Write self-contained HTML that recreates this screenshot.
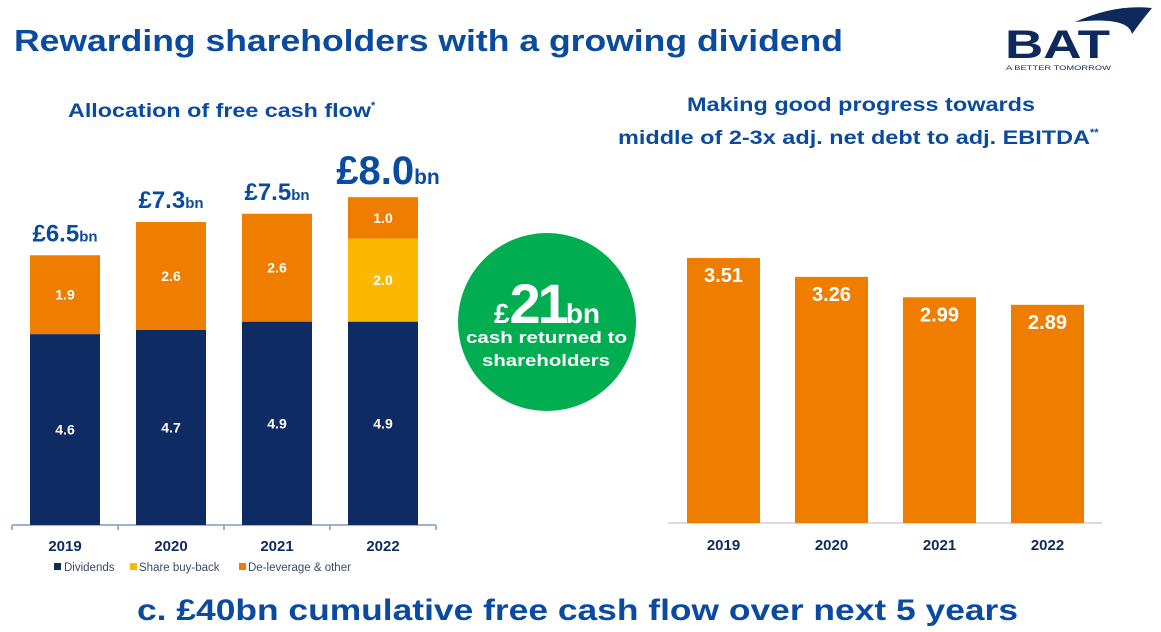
<!DOCTYPE html>
<html><head><meta charset="utf-8"><style>
body{margin:0;width:1161px;height:632px;background:#fff;overflow:hidden;font-family:"Liberation Sans",sans-serif}
svg{display:block}
</style></head><body>
<svg id="s" width="1161" height="632" font-family="Liberation Sans, sans-serif">
<text x="14" y="51" font-size="31" font-weight="bold" fill="#0a4a9f" textLength="829" lengthAdjust="spacingAndGlyphs">Rewarding shareholders with a growing dividend</text>
<g>
<text x="1005" y="58" font-size="40" font-weight="bold" fill="#0e2a5c" textLength="105" lengthAdjust="spacingAndGlyphs">BAT</text>
<path d="M1075 22 Q1115 4 1152 8 Q1142 20 1132 34 Q1128 16 1075 22Z" fill="#0e2a5c"/>
<text x="1006" y="70" font-size="6.5" fill="#0e2a5c" textLength="105" lengthAdjust="spacingAndGlyphs">A BETTER TOMORROW</text>
</g>
<text x="68" y="117" font-size="19" font-weight="bold" fill="#0a4a9f"><tspan textLength="303" lengthAdjust="spacingAndGlyphs">Allocation of free cash flow</tspan><tspan font-size="11" dy="-8">*</tspan></text>
<text x="687" y="111" font-size="19" font-weight="bold" fill="#0a4a9f" textLength="348" lengthAdjust="spacingAndGlyphs">Making good progress towards</text>
<text x="618" y="144" font-size="19" font-weight="bold" fill="#0a4a9f"><tspan textLength="472" lengthAdjust="spacingAndGlyphs">middle of 2-3x adj. net debt to adj. EBITDA</tspan><tspan font-size="11" dy="-8">**</tspan></text>
<g id="left"></g>
<g id="right"></g>
<g>
<circle cx="547" cy="322" r="89" fill="#00ad50"/>
<text x="547" y="323" text-anchor="middle" fill="#fff" font-weight="bold"><tspan font-size="28">£</tspan><tspan font-size="56" letter-spacing="-3">21</tspan><tspan font-size="28">bn</tspan></text>
<text x="466" y="343" fill="#fff" font-weight="bold" font-size="17" textLength="161" lengthAdjust="spacingAndGlyphs">cash returned to</text>
<text x="482" y="366" fill="#fff" font-weight="bold" font-size="17" textLength="128" lengthAdjust="spacingAndGlyphs">shareholders</text>
</g>
<g>
<rect x="54" y="563" width="7" height="7" fill="#0f2b63"/><text x="64" y="571" font-size="11.5" fill="#3a4a6a">Dividends</text>
<rect x="130" y="563" width="7" height="7" fill="#fbb800"/><text x="139" y="571" font-size="11.5" fill="#3a4a6a">Share buy-back</text>
<rect x="239" y="563" width="7" height="7" fill="#ee7d00"/><text x="248" y="571" font-size="11.5" fill="#3a4a6a">De-leverage &amp; other</text>
</g>
<text x="137" y="620" font-size="30" font-weight="bold" fill="#0a4a9f" textLength="881" lengthAdjust="spacingAndGlyphs">c. £40bn cumulative free cash flow over next 5 years</text>
</svg>
<script>
const years=['2019','2020','2021','2022'];
const dividends=[4.6,4.7,4.9,4.9];
const buyback=[0,0,0,2.0];
const deleverage=[1.9,2.6,2.6,1.0];
const totals=['6.5','7.3','7.5','8.0'];
const leverage=[3.51,3.26,2.99,2.89];
const NS='http://www.w3.org/2000/svg';
function mk(p,t,a,txt){const e=document.createElementNS(NS,t);for(const k in a)e.setAttribute(k,a[k]);if(txt!=null)e.textContent=txt;p.appendChild(e);return e;}
const L=document.getElementById('left'),R=document.getElementById('right');
const lBase=525,lScale=41.5,lX0=12,lBand=106;
const lx=i=>lX0+i*lBand+18, ly=v=>lBase-v*lScale;
let ax=mk(L,'line',{x1:12,x2:436,y1:lBase,y2:lBase,stroke:'#7f9ac0','stroke-width':1.5});


for(let i=0;i<=4;i++){let t=mk(L,'line',{x1:lX0+i*lBand,x2:lX0+i*lBand,y1:lBase,y2:lBase+5,stroke:'#7f9ac0','stroke-width':1.5});

}
years.forEach((y,i)=>{
 const x=lx(i),w=70;let acc=0;
 [[dividends[i],'#0f2b63','dividends'],[buyback[i],'#fbb800','buyback'],[deleverage[i],'#ee7d00','deleverage']].forEach(([v,c,n])=>{
  if(!v)return;
  const r=mk(L,'rect',{x:x,y:ly(acc+v),width:w,height:v*lScale,fill:c});
  
  
  const t=mk(L,'text',{x:x+w/2,y:ly(acc+v/2)+5,'text-anchor':'middle','font-size':14,'font-weight':'bold',fill:'#fff'},v.toFixed(1));
  
  
  acc+=v;});
 const big=i===3;
 const tt=mk(L,'text',{x:x+w/2+(big?5:0),y:ly(acc)-(big?13:14),'text-anchor':'middle',fill:'#0a4a9f','font-weight':'bold'});
 
 
 mk(tt,'tspan',{'font-size':big?40:24},'£'+totals[i]);mk(tt,'tspan',{'font-size':big?21:15},'bn');
 const yl=mk(L,'text',{x:x+w/2,y:551,'text-anchor':'middle','font-size':15,'font-weight':'bold',fill:'#0f2b63'},y);
 
 
});
const rBase=523,rScale=75.5,rX0=668,rBand=108;
const rx=i=>rX0+i*rBand+19, ry=v=>rBase-v*rScale;
let ax2=mk(R,'line',{x1:668,x2:1102,y1:rBase,y2:rBase,stroke:'#d0d0d0','stroke-width':1.5});


years.forEach((y,i)=>{
 const r=mk(R,'rect',{x:rx(i),y:ry(leverage[i]),width:73,height:leverage[i]*rScale,fill:'#ee7d00'});
 
 
 const t=mk(R,'text',{x:rx(i)+36.5,y:ry(leverage[i])+24,'text-anchor':'middle','font-size':20,'font-weight':'bold',fill:'#fff'},leverage[i].toFixed(2));
 
 
 const yl=mk(R,'text',{x:rx(i)+36.5,y:550,'text-anchor':'middle','font-size':15,'font-weight':'bold',fill:'#0f2b63'},y);
 
 
});
</script>
</body></html>
